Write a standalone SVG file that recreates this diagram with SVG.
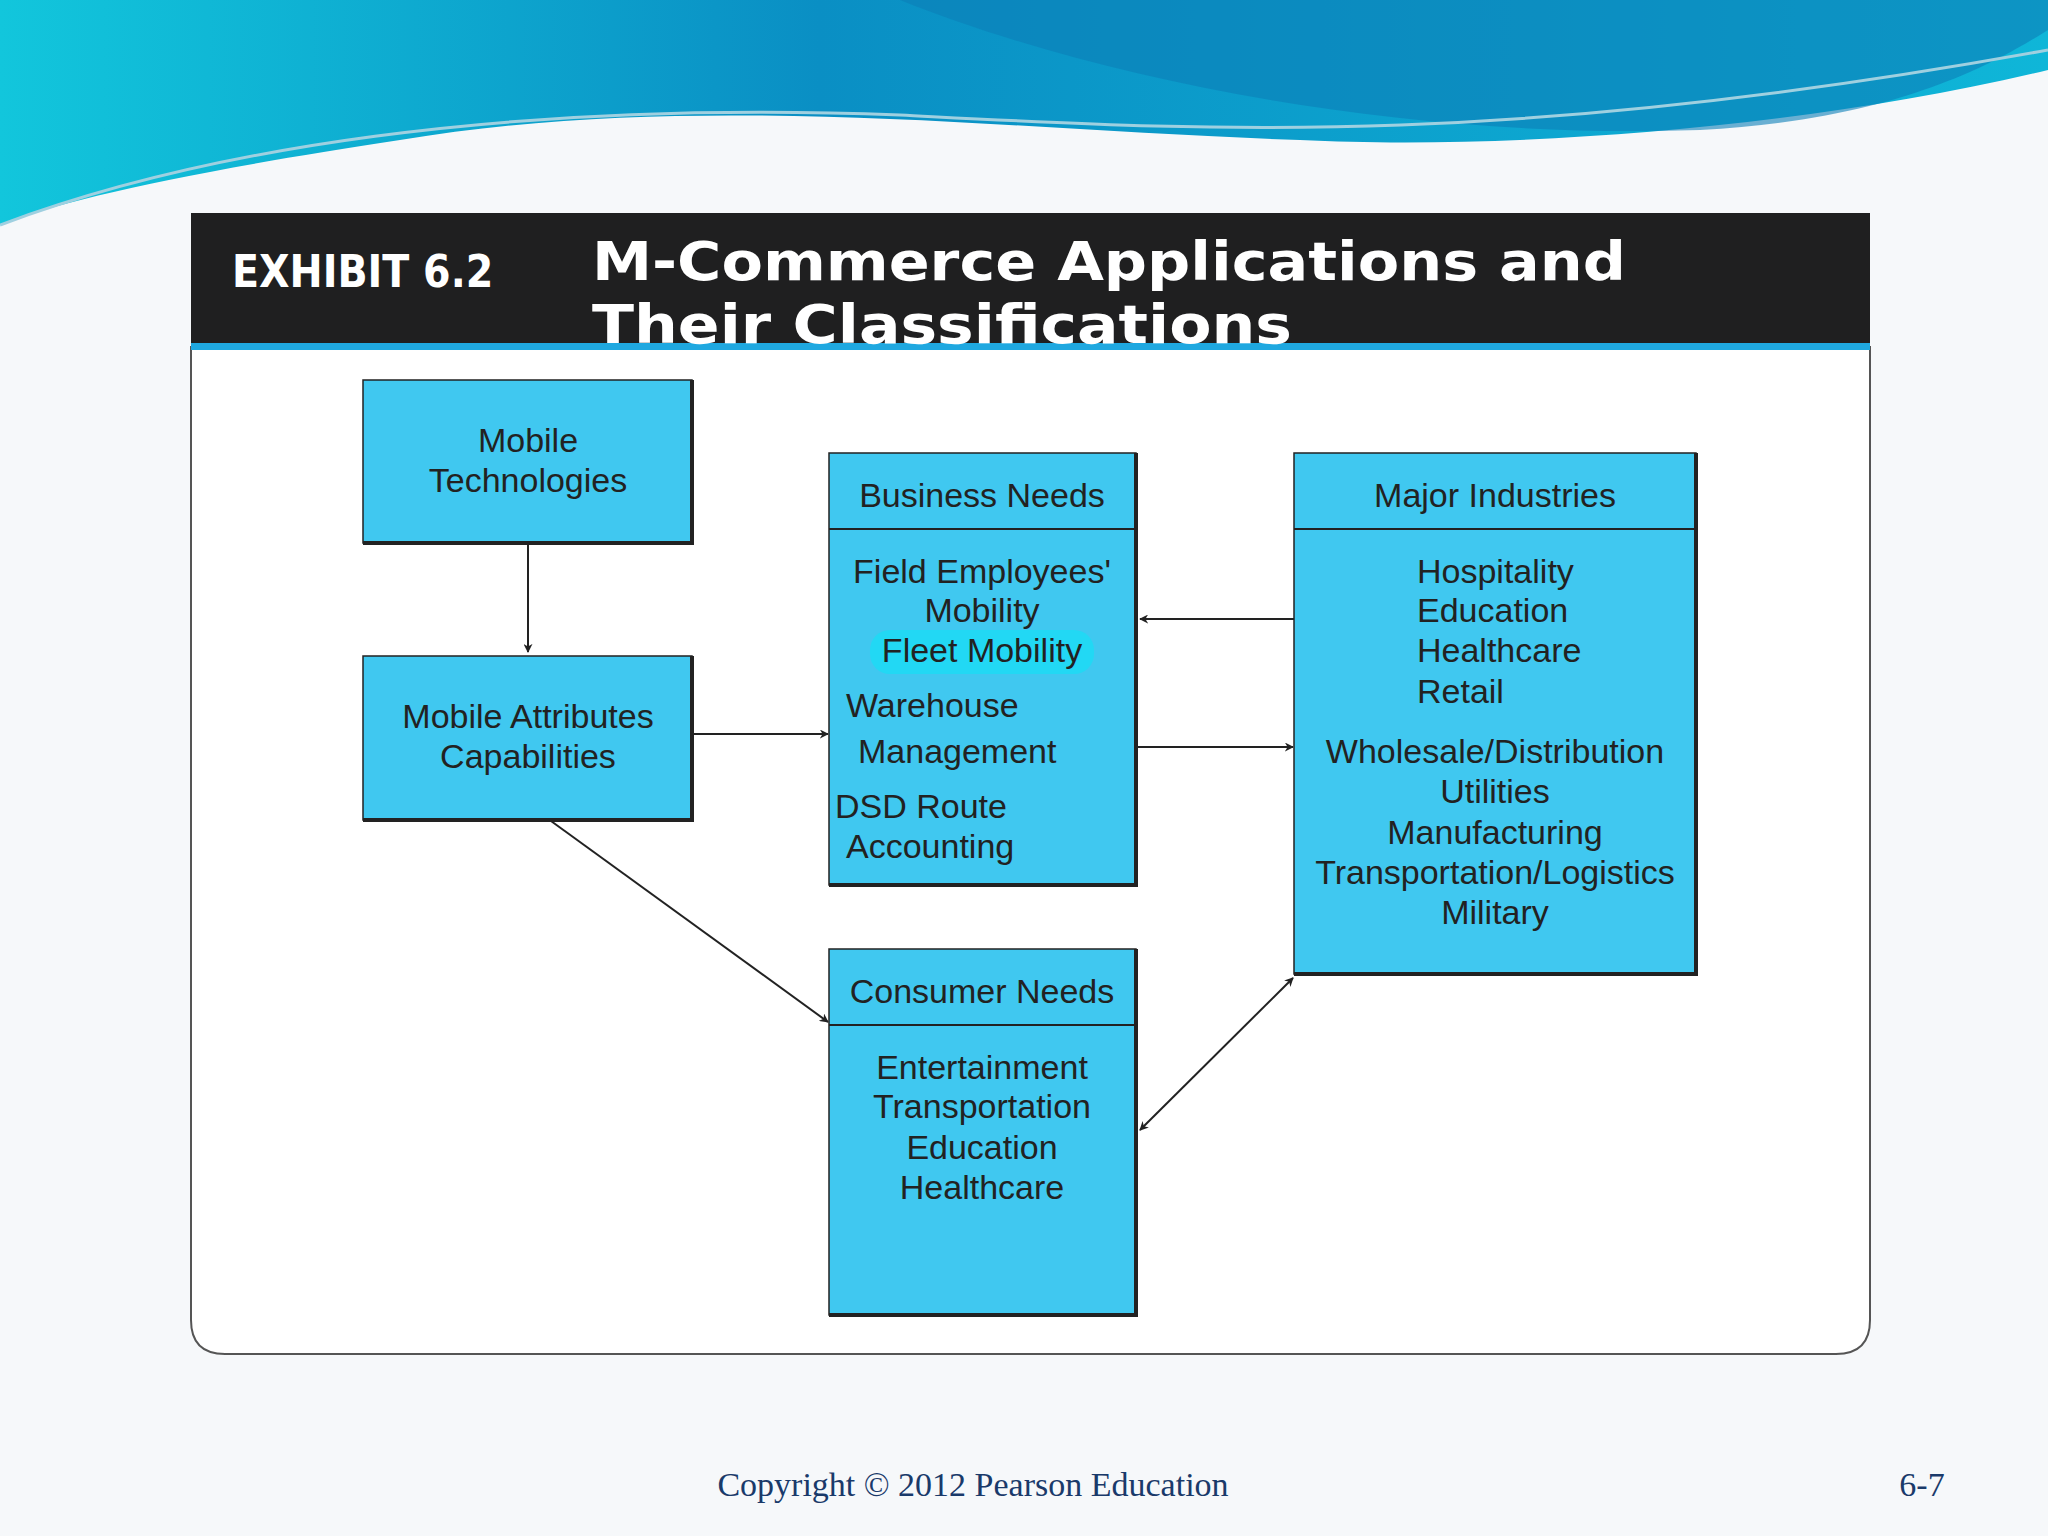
<svg xmlns="http://www.w3.org/2000/svg" width="2048" height="1536" viewBox="0 0 2048 1536">
<defs>
<linearGradient id="wave" x1="0" y1="0" x2="1" y2="0"><stop offset="0" stop-color="#12c6dc"/><stop offset="0.4" stop-color="#0a8fc4"/><stop offset="1" stop-color="#0fb6d8"/></linearGradient>
<marker id="ah" viewBox="0 0 10 10" refX="9" refY="5" markerWidth="9" markerHeight="9" orient="auto-start-reverse" markerUnits="userSpaceOnUse"><path d="M0,0 L10,5 L0,10 L3,5 z" fill="#222"/></marker>
<style>
.box{fill:#40c8f0;stroke:#222;stroke-width:1.5}
.sh{stroke:#222;stroke-width:4;fill:none}
.t{font-family:"Liberation Sans",Arial,sans-serif;font-size:34px;fill:#222}
.c{text-anchor:middle}
.ln{stroke:#222;stroke-width:2;fill:none;marker-end:url(#ah)}
</style>
</defs>
<rect width="2048" height="1536" fill="#f6f8fa"/>
<path d="M0,0 H2048 V70 C1800,130 1500,150 1300,140 C1000,130 700,90 400,140 C200,170 60,200 0,225 Z" fill="url(#wave)"/>
<path d="M900,0 C1100,80 1400,140 1700,130 C1900,120 2000,60 2048,30 V0 Z" fill="#0b7fb8" opacity="0.6"/>
<path d="M0,225 C200,150 500,100 900,115 C1200,130 1500,150 2048,50" stroke="#9fd0e0" stroke-width="3" fill="none"/>
<path d="M191,346 V1320 Q191,1354 225,1354 H1836 Q1870,1354 1870,1320 V346" fill="#fff" stroke="#555" stroke-width="2"/>
<rect x="191" y="213" width="1679" height="133" fill="#1f1f20"/>
<rect x="191" y="343" width="1679" height="7" fill="#1fa8e0"/>
<text x="232" y="287" font-family="'DejaVu Sans Condensed','DejaVu Sans',sans-serif" font-weight="bold" font-size="44" fill="#fff">EXHIBIT 6.2</text>
<text x="592" y="280" font-family="'DejaVu Sans',sans-serif" font-weight="bold" font-size="54" fill="#fff" textLength="1034" lengthAdjust="spacingAndGlyphs">M-Commerce Applications and</text>
<text x="592" y="343" font-family="'DejaVu Sans',sans-serif" font-weight="bold" font-size="54" fill="#fff" textLength="700" lengthAdjust="spacingAndGlyphs">Their Classifications</text>

<g id="conn">
<line class="ln" x1="528" y1="545" x2="528" y2="652"/>
<line class="ln" x1="692" y1="734" x2="828" y2="734"/>
<line class="ln" x1="1294" y1="619" x2="1140" y2="619"/>
<line class="ln" x1="1138" y1="747" x2="1293" y2="747"/>
<line class="ln" x1="551" y1="821" x2="828" y2="1022"/>
<line class="ln" x1="1140" y1="1130" x2="1293" y2="978" marker-start="url(#ah)"/>
</g>

<g id="mt"><rect class="box" x="363" y="380" width="329" height="163"/><path class="sh" d="M692,380 V543 H363"/>
<text class="t c" x="528" y="452">Mobile</text><text class="t c" x="528" y="492">Technologies</text></g>
<g id="ma"><rect class="box" x="363" y="656" width="329" height="164"/><path class="sh" d="M692,656 V820 H363"/>
<text class="t c" x="528" y="728">Mobile Attributes</text><text class="t c" x="528" y="768">Capabilities</text></g>
<g id="bn"><rect class="box" x="829" y="453" width="307" height="432"/><path class="sh" d="M1136,453 V885 H829"/>
<line x1="829" y1="529" x2="1136" y2="529" stroke="#222" stroke-width="2"/>
<text class="t c" x="982" y="507">Business Needs</text>
<text class="t c" x="982" y="583">Field Employees'</text><text class="t c" x="982" y="622">Mobility</text>
<rect x="870" y="630" width="224" height="44" rx="20" fill="#22d8f4"/>
<text class="t c" x="982" y="662">Fleet Mobility</text>
<text class="t" x="846" y="717">Warehouse</text><text class="t" x="858" y="763">Management</text>
<text class="t" x="835" y="818">DSD Route</text><text class="t" x="846" y="858">Accounting</text></g>
<g id="mi"><rect class="box" x="1294" y="453" width="402" height="521"/><path class="sh" d="M1696,453 V974 H1294"/>
<line x1="1294" y1="529" x2="1696" y2="529" stroke="#222" stroke-width="2"/>
<text class="t c" x="1495" y="507">Major Industries</text>
<text class="t" x="1417" y="583">Hospitality</text><text class="t" x="1417" y="622">Education</text><text class="t" x="1417" y="662">Healthcare</text><text class="t" x="1417" y="703">Retail</text>
<text class="t c" x="1495" y="763">Wholesale/Distribution</text><text class="t c" x="1495" y="803">Utilities</text><text class="t c" x="1495" y="844">Manufacturing</text><text class="t c" x="1495" y="884">Transportation/Logistics</text><text class="t c" x="1495" y="924">Military</text></g>
<g id="cn"><rect class="box" x="829" y="949" width="307" height="366"/><path class="sh" d="M1136,949 V1315 H829"/>
<line x1="829" y1="1025" x2="1136" y2="1025" stroke="#222" stroke-width="2"/>
<text class="t c" x="982" y="1003">Consumer Needs</text>
<text class="t c" x="982" y="1079">Entertainment</text><text class="t c" x="982" y="1118">Transportation</text><text class="t c" x="982" y="1159">Education</text><text class="t c" x="982" y="1199">Healthcare</text></g>

<text x="973" y="1496" text-anchor="middle" font-family="'Liberation Serif',serif" font-size="34" fill="#1a3a6a">Copyright © 2012 Pearson Education</text>
<text x="1922" y="1496" text-anchor="middle" font-family="'Liberation Serif',serif" font-size="34" fill="#1a3a6a">6-7</text>
</svg>
